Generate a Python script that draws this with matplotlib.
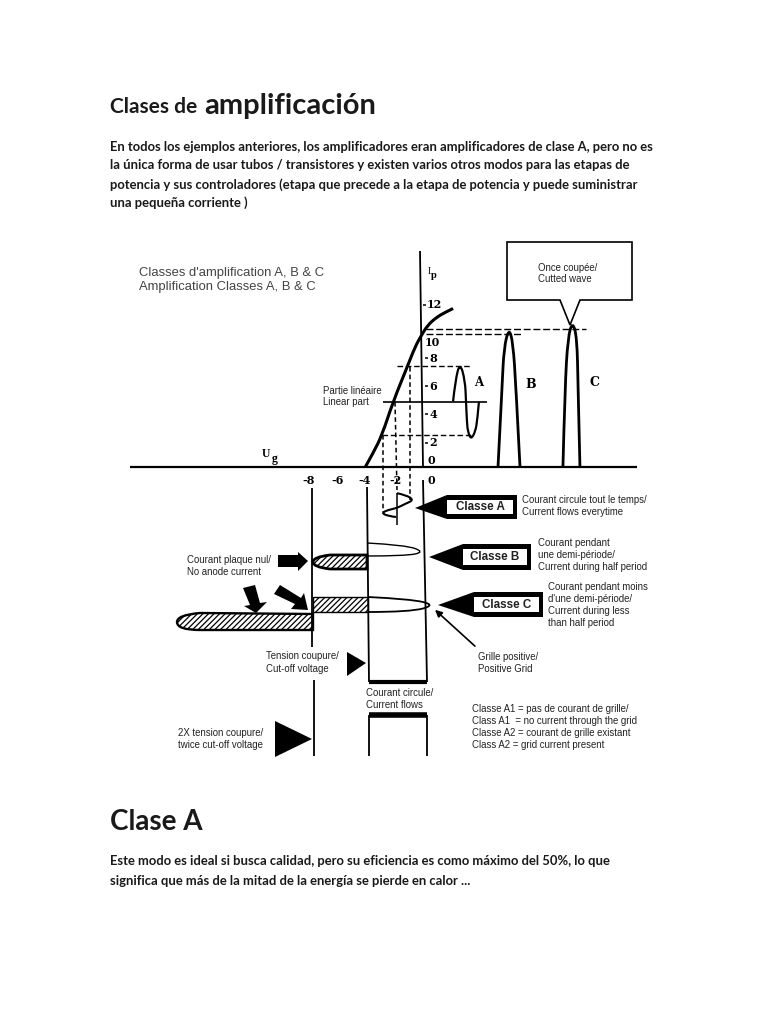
import matplotlib
matplotlib.use("Agg")
import matplotlib.pyplot as plt
from matplotlib.path import Path
from matplotlib.patches import PathPatch, Polygon, Rectangle

# transfer curve, Ug (V) / Ip (mA)
curve_ug = [-4.2, -3.6, -2.96, -2.15, -1.1, -0.5, -0.07, 0.4, 1.04, 1.7, 2.3]
curve_ip = [0.0, 1.1, 2.44, 4.96, 7.63, 9.2, 10.0, 10.8, 11.4, 11.8, 12.1]

# output waves, drawn to the right of the Ip axis
wave_a_x = [2.3, 2.47, 2.81, 3.19, 3.26, 3.33, 3.4, 3.63, 3.95, 4.1, 4.22]
wave_a_y = [5.0, 6.6, 8.0, 6.6, 5.0, 3.4, 2.7, 2.1, 2.7, 3.6, 5.0]
wave_b_x = [5.63, 5.93, 6.07, 6.44, 6.74, 6.96, 7.26]
wave_b_y = [0.0, 6.1, 9.1, 10.6, 9.5, 6.1, 0.0]
wave_c_x = [10.44, 10.59, 10.81, 11.15, 11.48, 11.56, 11.7]
wave_c_y = [0.0, 6.1, 9.9, 11.1, 9.9, 6.1, 0.0]
input_x = [-1.85, -1.19, -0.6, -1.26, -1.85, -2.52, -3.0, -2.52, -1.93]
input_y = [-2.0, -2.14, -2.52, -2.82, -3.13, -3.28, -3.51, -3.74, -3.82]

ip_labels = ["12", "10", "8", "6", "4", "2", "0"]
ip_label_y = [305, 342, 358, 386, 414, 443, 461]
ip_label_x = [427, 425, 429, 429, 429, 429, 428]
ug_labels = ["-8", "-6", "-4", "-2", "0"]
ug_label_x = [309, 338, 365, 395, 431]

body_top = [
    "En todos los ejemplos anteriores, los amplificadores eran amplificadores de clase A, pero no es",
    "la única forma de usar tubos / transistores y existen varios otros modos para las etapas de",
    "potencia y sus controladores (etapa que precede a la etapa de potencia y puede suministrar",
    "una pequeña corriente )",
]
body_top_y = [147, 165, 185, 203]
body_bottom = [
    "Este modo es ideal si busca calidad, pero su eficiencia es como máximo del 50%, lo que",
    "significa que más de la mitad de la energía se pierde en calor ...",
]
body_bottom_y = [861, 881]

# (x, y, text) of the small diagram captions
captions = [
    (538, 268, "Once coupée/"), (538, 279, "Cutted wave"),
    (323, 391, "Partie linéaire"), (323, 402, "Linear part"),
    (522, 500, "Courant circule tout le temps/"), (522, 512, "Current flows everytime"),
    (538, 543, "Courant pendant"), (538, 555, "une demi-période/"), (538, 567, "Current during half period"),
    (548, 587, "Courant pendant moins"), (548, 599, "d'une demi-période/"),
    (548, 611, "Current during less"), (548, 623, "than half period"),
    (187, 560, "Courant plaque nul/"), (187, 572, "No anode current"),
    (266, 656, "Tension coupure/"), (266, 669, "Cut-off voltage"),
    (178, 733, "2X tension coupure/"), (178, 745, "twice cut-off voltage"),
    (478, 657, "Grille positive/"), (478, 669, "Positive Grid"),
    (366, 693, "Courant circule/"), (366, 705, "Current flows"),
    (472, 709, "Classe A1 = pas de courant de grille/"), (472, 721, "Class A1  = no current through the grid"),
    (472, 733, "Classe A2 = courant de grille existant"), (472, 745, "Class A2 = grid current present"),
]

fig = plt.figure(figsize=(7.68, 10.24), dpi=100)
page = fig.add_axes([0, 0, 1, 1])
page.set_xlim(0, 768)
page.set_ylim(1024, 0)
page.axis("off")

# same area as page, but in Ug / Ip units
ax = fig.add_axes([0, 0, 1, 1])
ax.set_xlim((0 - 422) / 13.5, (768 - 422) / 13.5)
ax.set_ylim((467 - 1024) / 13.1, 467 / 13.1)
ax.axis("off")
ax.patch.set_alpha(0)


def smooth(axes, xs, ys, lw):
    verts = [(xs[0], ys[0])]
    codes = [Path.MOVETO]
    for i in range(1, len(xs) - 1):
        end = (xs[i + 1], ys[i + 1]) if i == len(xs) - 2 else ((xs[i] + xs[i + 1]) / 2, (ys[i] + ys[i + 1]) / 2)
        verts += [(xs[i], ys[i]), end]
        codes += [Path.CURVE3, Path.CURVE3]
    axes.add_patch(PathPatch(Path(verts, codes), fc="none", ec="black", lw=lw))


def line(xs, ys, lw=1.0, ls="-"):
    page.plot(xs, ys, color="black", lw=lw, ls=ls, solid_capstyle="butt")


def fill(points, color="black", **kw):
    page.add_patch(Polygon(points, closed=True, fc=color, ec=kw.pop("ec", "none"), **kw))


def class_tag(tip, x0, x1, y0, y1, label):
    fill([tip, (x0, y0), (x1, y0), (x1, y1), (x0, y1)])
    page.add_patch(Rectangle((x0, y0 + 5), x1 - x0 - 4, y1 - y0 - 10, fc="white", ec="none", zorder=3))
    page.text((x0 + x1 - 4) / 2, (y0 + y1) / 2, label, fontsize=8.4, fontweight="bold", family="Liberation Sans",
              ha="center", va="center", color="#222222", zorder=4)


# page text
page.text(110, 113, "Clases de", fontsize=15, fontweight="bold", family="Lato", color="#1a1a1a")
page.text(204, 114, "amplificación", fontsize=21, fontweight="bold", family="Lato", color="#1a1a1a")
page.text(110, 830, "Clase A", fontsize=20, fontweight="bold", family="Lato", color="#1a1a1a")
for txt, y in zip(body_top + body_bottom, body_top_y + body_bottom_y):
    page.text(110, y, txt, fontsize=9.33, fontweight="bold", family="Lato", color="#1a1a1a", va="center")

# axes of the diagram
line([130, 637], [467, 467], lw=1.6)
line([420, 423], [251, 467], lw=1.3)
page.text(139, 273, "Classes d'amplification A, B & C", fontsize=9.4, family="Liberation Sans", color="#444444", va="center")
page.text(139, 287, "Amplification Classes A, B & C", fontsize=9.4, family="Liberation Sans", color="#444444", va="center")
page.text(428, 272, "I", fontsize=7, family="Liberation Serif", va="center")
page.text(431, 276, "p", fontsize=7.5, fontweight="bold", family="Liberation Serif", va="center")
page.text(262, 454, "U", fontsize=8.5, fontweight="bold", family="Liberation Serif", va="center")
page.text(272, 459, "g", fontsize=8.5, fontweight="bold", family="Liberation Serif", va="center")
for lab, x, y in zip(ip_labels, ip_label_x, ip_label_y):
    page.text(x, y, lab, fontsize=8, fontweight="bold", family="DejaVu Serif", va="center")
    if lab not in ("10", "0"):
        line([x - 4, x - 1], [y, y], lw=1.1)
for lab, x in zip(ug_labels, ug_label_x):
    page.text(x, 480, lab, fontsize=8, fontweight="bold", family="DejaVu Serif", va="center", ha="center")

# curves
smooth(ax, curve_ug, curve_ip, 2.2)
smooth(ax, wave_a_x, wave_a_y, 1.6)
smooth(ax, wave_b_x, wave_b_y, 2.0)
smooth(ax, wave_c_x, wave_c_y, 2.0)
smooth(ax, input_x, input_y, 1.5)
line([383, 487], [402, 402], lw=1.2)

# dashed guides
line([426, 586], [329, 329], ls=(0, (5, 2)))
line([426, 522], [334, 334], ls=(0, (5, 2)))
line([397, 471], [366, 366], ls=(0, (4, 2)))
line([382, 471], [435, 435], ls=(0, (4, 2)))
line([383, 383], [435, 512], lw=1.1, ls=(0, (3, 2)))
line([395, 397], [402, 490], lw=1.1, ls=(0, (3, 2)))
line([397, 397], [493, 525], lw=1.1)
line([410, 410], [367, 500], lw=1.1, ls=(0, (3, 2)))

# callout
fill([(507, 242), (632, 242), (632, 300), (580, 300), (570, 325), (560, 300), (507, 300)], color="white", ec="black", lw=1.2)

for x, y, txt in captions:
    page.text(x, y, txt, fontsize=6.9, family="Liberation Sans", color="#222222", va="center", zorder=5)

# lower schematic
line([312, 312], [488, 647], lw=1.3)
line([314, 314], [680, 756], lw=1.3)
line([367, 369], [487, 682], lw=1.3)
line([423, 427], [480, 682], lw=1.3)
line([369, 427], [682, 682], lw=3)
line([369, 427], [715, 715], lw=4)
line([369, 369], [715, 756], lw=1.3)
line([427, 427], [715, 756], lw=1.3)

# hatched parts of the cycle
plt.rcParams["hatch.linewidth"] = 0.9
left_fish = Path([(313, 614), (200, 613), (177, 615), (177, 622), (177, 630), (200, 630), (313, 630), (313, 614)],
                 [Path.MOVETO, Path.LINETO, Path.CURVE3, Path.CURVE3, Path.CURVE3, Path.CURVE3, Path.LINETO, Path.CLOSEPOLY])
page.add_patch(PathPatch(left_fish, fc="white", ec="black", lw=1.7, hatch="//////"))
b_fish = Path([(367, 555), (330, 555), (313, 557), (313, 562), (313, 567), (330, 569), (367, 569), (367, 555)],
              [Path.MOVETO, Path.LINETO, Path.CURVE3, Path.CURVE3, Path.CURVE3, Path.CURVE3, Path.LINETO, Path.CLOSEPOLY])
page.add_patch(PathPatch(b_fish, fc="white", ec="black", lw=2.0, hatch="//////"))
page.add_patch(Rectangle((313, 597), 55, 15, fc="white", ec="black", lw=1.0, hatch="//////"))
smooth(page, [367, 405, 425, 405, 367], [543, 545, 552, 556, 556], 1.0)
smooth(page, [368, 410, 436, 410, 368], [597, 599, 605, 612, 612], 1.3)

# black pointers
fill([(278, 555), (298, 555), (298, 552), (308, 561), (298, 571), (298, 567), (278, 567)])
fill([(243, 588), (255, 585), (260, 603), (267, 602), (256, 613), (244, 606), (250, 605)])
fill([(280, 585), (301, 598), (304, 593), (308, 610), (291, 609), (295, 604), (274, 594)])
fill([(347, 652), (366, 663), (347, 676)])
fill([(275, 721), (312, 739), (275, 757)])
page.annotate("", xy=(433, 608), xytext=(477, 648), arrowprops=dict(arrowstyle="-|>", color="black", lw=1.2))

class_tag((415, 508), 447, 517, 495, 519, "Classe A")
class_tag((429, 557), 463, 531, 544, 570, "Classe B")
class_tag((438, 605), 474, 543, 592, 617, "Classe C")

page.text(589, 383, "C", fontsize=9, fontweight="bold", family="DejaVu Serif", ha="left", va="center")
page.text(525, 384, "B", fontsize=9, fontweight="bold", family="DejaVu Serif", ha="left", va="center")
page.text(474, 383, "A", fontsize=8.5, fontweight="bold", family="DejaVu Serif", ha="left", va="center")

fig.savefig("out.png", dpi=100)
